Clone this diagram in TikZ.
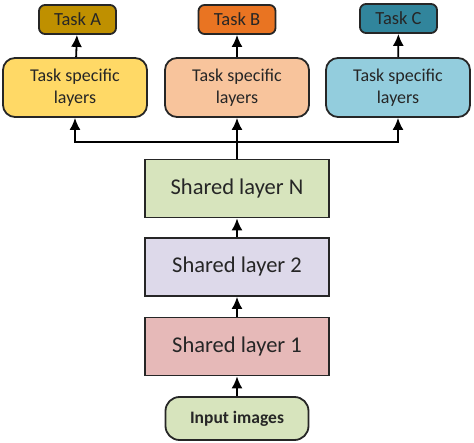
\documentclass[tikz,border=0pt]{standalone}
\usepackage{fontspec}
\setmainfont{Carlito}
\usetikzlibrary{arrows.meta}
\definecolor{taskA}{HTML}{BF9000}
\definecolor{taskB}{HTML}{E97422}
\definecolor{taskC}{HTML}{31859C}
\definecolor{specA}{HTML}{FFD966}
\definecolor{specB}{HTML}{F8C49C}
\definecolor{specC}{HTML}{93CDDD}
\definecolor{shN}{HTML}{D7E4BD}
\definecolor{sh2}{HTML}{DDD9EA}
\definecolor{sh1}{HTML}{E6B9B8}
\definecolor{inp}{HTML}{D7E4BD}
\tikzset{
  base/.style={draw=black!85, line width=1.8pt, align=center, inner sep=0pt, text=black!85},
  taskbox/.style={base, rounded corners=6pt, minimum width=77pt, minimum height=29pt, font=\fontsize{18.5}{20}\selectfont},
  specbox/.style={base, rounded corners=12pt, minimum width=144pt, minimum height=59pt, font=\fontsize{18}{22}\selectfont},
  sharedbox/.style={base, minimum width=184pt, minimum height=58pt, font=\fontsize{22.5}{26}\selectfont},
  inbox/.style={base, rounded corners=14pt, minimum width=143pt, minimum height=43pt, font=\bfseries\fontsize{17.5}{20}\selectfont},
  arr/.style={line width=1.8pt, draw=black, -{Latex[length=12pt,width=11pt]}},
  ln/.style={line width=1.8pt, draw=black}
}
\begin{document}
\begin{tikzpicture}[x=1pt,y=-1pt]
\useasboundingbox (0,0) rectangle (474,443);
\node[taskbox, fill=taskA] (ta) at (77.5,19.5) {Task A};
\node[taskbox, fill=taskB] (tb) at (237,19.5) {Task B};
\node[taskbox, fill=taskC] (tc) at (398.5,18.5) {Task C};
\node[specbox, fill=specA] (sa) at (75,87.5) {Task specific\\layers};
\node[specbox, fill=specB] (sb) at (237,87.5) {Task specific\\layers};
\node[specbox, fill=specC] (sc) at (398,87.5) {Task specific\\layers};
\node[sharedbox, fill=shN] (sN) at (237,188.5) {Shared layer N};
\node[sharedbox, fill=sh2] (s2) at (237,267) {Shared layer 2};
\node[sharedbox, fill=sh1] (s1) at (237,346.5) {Shared layer 1};
\node[inbox, fill=inp] (in) at (237,418.5) {Input images};
\coordinate (bus) at (237,142);
\draw[arr] (in) -- (s1);
\draw[arr] (s1) -- (s2);
\draw[arr] (s2) -- (sN);
\draw[ln] (sN.north) -- (bus);
\draw[arr] (bus) -- (sb);
\draw[arr] (bus) -| (sa);
\draw[arr] (bus) -| (sc);
\draw[arr] (sa) -- (ta);
\draw[arr] (sb) -- (tb);
\draw[arr] (sc) -- (tc);
\end{tikzpicture}
\end{document}
